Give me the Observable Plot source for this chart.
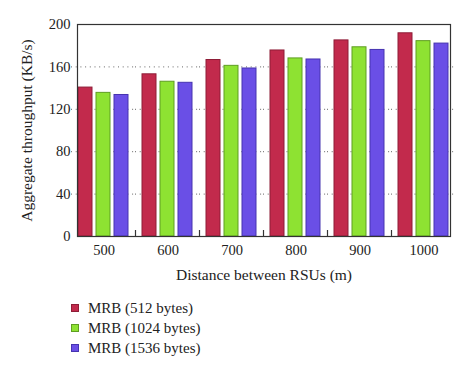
<!DOCTYPE html>
<html><head><meta charset="utf-8">
<script src="https://cdn.jsdelivr.net/npm/d3@7"></script>
<script src="https://cdn.jsdelivr.net/npm/@observablehq/plot@0.6"></script>
<style>
body{margin:0;background:#fff;font-family:"Liberation Serif","DejaVu Serif",serif;}
#legend{margin:8px 0 0 71px;font-size:15px;color:#222}
.row{display:flex;align-items:center;height:20px}
.sw{width:6px;height:6px;margin-right:9px;border:1px solid}
g[aria-label$="axis label"] text{font-size:15.5px}
</style></head><body><div id="chart"></div><div id="legend"></div>
<script>
const distances = ["500","600","700","800","900","1000"];
const series = ["MRB (512 bytes)","MRB (1024 bytes)","MRB (1536 bytes)"];
const mrb512 = [140.5, 153, 166.5, 175.5, 185, 191.7];
const mrb1024 = [135.5, 146, 161, 168, 178.5, 184.3];
const mrb1536 = [133.5, 145, 158.5, 167, 176, 182];
const yTicks = [0, 40, 80, 120, 160, 200];
const fills = ["#c22a4c", "#8ee232", "#6a4fe6"];
const strokes = ["#8e1d37", "#5f9e22", "#4634b0"];

const seriesValues = [mrb512, mrb1024, mrb1536];
const data = distances.flatMap((d, i) => seriesValues.map((s, j) => ({distance: d, series: series[j], value: s[i]})));

const chart = Plot.plot({
  width: 474, height: 290,
  marginLeft: 70, marginRight: 17, marginTop: 24, marginBottom: 54,
  style: {fontFamily: '"Liberation Serif","DejaVu Serif",serif', fontSize: "14.5px", color: "#222", background: "white"},
  fx: {domain: distances, paddingInner: 0.174, paddingOuter: 0.087, label: "Distance between RSUs (m)", labelAnchor: "center", labelOffset: 43, tickSize: 0, tickPadding: 8},
  x: {domain: series, paddingInner: 0.2, paddingOuter: 0, axis: null},
  y: {domain: [0, 200], ticks: yTicks, tickSize: 0, tickPadding: 7, label: "Aggregate throughput (KB/s)", labelArrow: "none", labelAnchor: "center", labelOffset: 57},
  marks: [
    Plot.gridY(yTicks.slice(1, -1), {stroke: "#666", strokeOpacity: 1, strokeDasharray: "1,3.7", insetLeft: -6, insetRight: -6}),
    ...series.map((s, j) => Plot.barY(data.filter(d => d.series === s), {fx: "distance", x: "series", y: "value", fill: fills[j], stroke: strokes[j], strokeWidth: 1})),
    Plot.frame({facet: "super", stroke: "#333", strokeWidth: 1.2})
  ]
});
document.getElementById("chart").appendChild(chart);

// group boundary ticks from the fx scale
const fx = chart.scale("fx");
const gap = fx.step - fx.bandwidth;
const yBottom = 290 - 54;
const svg = d3.select(chart);
distances.slice(1).forEach(d => {
  const xb = fx.apply(d) - gap / 2;
  svg.append("line").attr("x1", xb).attr("x2", xb).attr("y1", yBottom).attr("y2", yBottom - 6)
    .attr("stroke", "#333").attr("stroke-width", 1.2);
});

const legend = d3.select("#legend");
series.forEach((s, j) => {
  const row = legend.append("div").attr("class", "row");
  row.append("div").attr("class", "sw").style("background", fills[j]).style("border-color", strokes[j]);
  row.append("span").text(s);
});
</script></body></html>
